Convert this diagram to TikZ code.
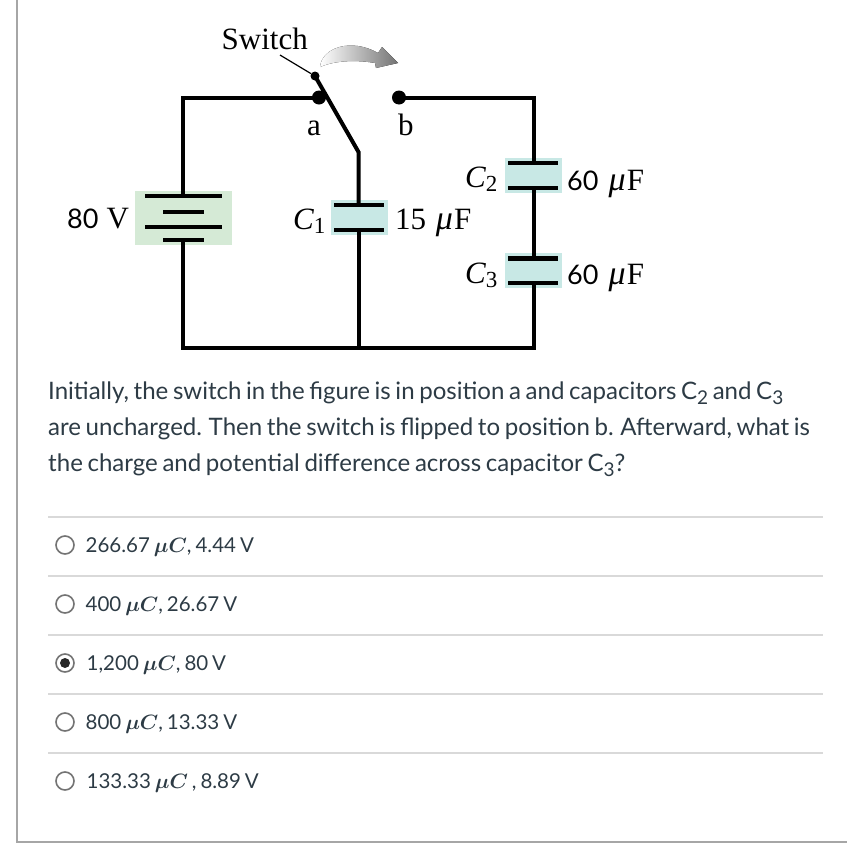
\documentclass[tikz,border=0pt]{standalone}
\usepackage{fontspec}
\setmainfont[WordSpace=0.75]{Lato}
\newfontfamily\figfont{Liberation Serif}
\usetikzlibrary{shapes}
\definecolor{inkblue}{HTML}{2D3B45}
\definecolor{rulegray}{HTML}{D9D9D9}
\definecolor{batgreen}{HTML}{D5EAD6}
\definecolor{capcyan}{HTML}{C8E8E5}
\newcommand{\fignum}{\figfont\fontsize{31}{31}\selectfont}
\newcommand{\capsym}[1]{{\itshape C}\raisebox{-0.3ex}{\fontsize{23}{23}\selectfont #1}}
\newcommand{\lowtwo}[1]{\raisebox{-0.45ex}{\fontsize{19}{19}\selectfont #1}}
\newcommand{\figmu}{{\hspace{2pt}\figfont\fontsize{34}{34}\selectfont{\itshape μ}\kern1pt\fontsize{31}{31}\selectfont F}}
\newcommand{\chmu}{{\fontsize{22.5}{22.5}\selectfont\boldmath\(\mu C\)}}
\tikzset{
  wire/.style={line width=4pt,line join=miter,black},
  plate/.style={line width=4.5pt,black},
  capbox/.style={fill=capcyan,draw=none,minimum width=57pt,minimum height=35pt,inner sep=0pt},
  batbox/.style={fill=batgreen,draw=none,minimum width=97pt,minimum height=54pt,inner sep=0pt},
  bigdot/.style={circle,fill=black,draw=none,minimum size=14pt,inner sep=0pt},
  pivot/.style={circle,fill=black,draw=none,minimum size=9pt,inner sep=0pt},
  figlabel/.style={inner sep=0pt,anchor=base west,black,font=\fignum},
  sanslabel/.style={inner sep=0pt,anchor=base west,black,font=\fontsize{27}{27}\selectfont},
  bodytext/.style={inner sep=0pt,anchor=base west,text=inkblue,font=\fontsize{24.05}{24.05}\selectfont},
  choicetext/.style={inner sep=0pt,anchor=base west,text=inkblue,font=\fontsize{20.5}{20.5}\selectfont},
  radio/.style={circle,draw=black!55,line width=1.6pt,fill=white,minimum size=18pt,inner sep=0pt},
  seprule/.style={draw=rulegray,line width=1.5pt}
}
\begin{document}
\begin{tikzpicture}[x=1pt,y=-1pt]
  \useasboundingbox (0,0) rectangle (847,849);
  % frame
  \coordinate (frametop) at (17,0);
  \coordinate (frameright) at (847,842);
  \draw[black!35,line width=2pt] (frametop) |- (frameright);

  % colour boxes
  \node[batbox] (bat) at (183.5,218) {};
  \node[capbox] (c1) at (359,217.5) {};
  \node[capbox] (c2) at (533.5,175.5) {};
  \node[capbox] (c3) at (533.5,270.5) {};

  % terminals
  \node[bigdot] (a) at (319,97.5) {};
  \node[bigdot] (b) at (399,97.5) {};
  \node[pivot] (pv) at (315,76) {};
  \coordinate (swend) at (358.5,152);
  \coordinate (c1top) at (358.5,205);
  \coordinate (c1bot) at (358.5,230);
  \coordinate (battop) at (183,196);
  \coordinate (batbot) at (183,240);
  \coordinate (c2top) at (533.5,163);
  \coordinate (c2bot) at (533.5,188);
  \coordinate (c3top) at (533.5,258.5);
  \coordinate (c3bot) at (533.5,283);
  \coordinate (botmid) at (358.5,348);

  % wires
  \draw[wire] (battop) |- (a.center);
  \draw[wire] (b.center) -| (c2top);
  \draw[wire] (pv.center) -- (swend) -- (c1top);
  \draw[wire] (c2bot) -- (c3top);
  \draw[wire] (batbot) |- (botmid) -| (c3bot);
  \draw[wire] (c1bot) -- (botmid);

  % plates
  \foreach \py in {196,227} \draw[plate] (145,\py) -- (222,\py);
  \foreach \py in {212,240} \draw[plate] (163,\py) -- (204,\py);
  \foreach \py in {205,230} \draw[plate] (334,\py) -- (384,\py);
  \foreach \py in {163,188,258.5,283} \draw[plate] (508,\py) -- (558,\py);

  % switch label and arrow
  \node[figlabel] (swlabel) at (221.5,49.5) {Switch};
  \coordinate (swlead) at (280,55);
  \draw[black,line width=1.2pt] (swlead) -- (pv);
  \fill[left color=white,right color=black!55]
    (320,67) .. controls (322,47) and (352,38) .. (378,53) -- (382,47) -- (398,63) -- (376,68) -- (375,63)
    .. controls (358,60) and (336,60) .. (320,67);

  % figure labels
  \node[figlabel] (la) at (307,135) {a};
  \node[figlabel] (lb) at (398,135) {b};
  \node[sanslabel] (volt) at (67,228.5) {80\hspace{8pt}{\fignum V}};
  \node[figlabel] (lc1) at (293,229) {\capsym{1}};
  \node[figlabel] (lc2) at (465,187) {\capsym{2}};
  \node[figlabel] (lc3) at (465,283) {\capsym{3}};
  \node[figlabel] (v1) at (395,229) {15 \figmu};
  \node[sanslabel] (v2) at (567,190) {60\hspace{3pt} \figmu};
  \node[sanslabel] (v3) at (567,284) {60\hspace{3pt} \figmu};

  % question
  \node[bodytext] (q1) at (48,399) {Initially, the switch in the figure is in position a and capacitors C\lowtwo{2} and C\lowtwo{3}};
  \node[bodytext] (q2) at (48,435) {are uncharged. Then the switch is flipped to position b. Afterward, what is};
  \node[bodytext] (q3) at (48,471) {the charge and potential difference across capacitor C\lowtwo{3}?};

  % choices
  \foreach \ry in {517,576,635,694,753} \draw[seprule] (48,\ry) -- (823,\ry);
  \foreach \ry/\rname in {545/r1,604/r2,663/r3,722/r4,781/r5}
    \node[radio] (\rname) at (65,\ry) {};
  \node[circle,fill=black!85,minimum size=10pt,inner sep=0pt] (sel) at (r3) {};
  \node[choicetext] (t1) at (85.5,552) {266.67 \chmu, 4.44 V};
  \node[choicetext] (t2) at (85.5,611) {400 \chmu, 26.67 V};
  \node[choicetext] (t3) at (86.5,670) {1,200 \chmu, 80 V};
  \node[choicetext] (t4) at (85.5,729) {800 \chmu, 13.33 V};
  \node[choicetext] (t5) at (86.5,788) {133.33 \chmu\ , 8.89 V};
\end{tikzpicture}
\end{document}
